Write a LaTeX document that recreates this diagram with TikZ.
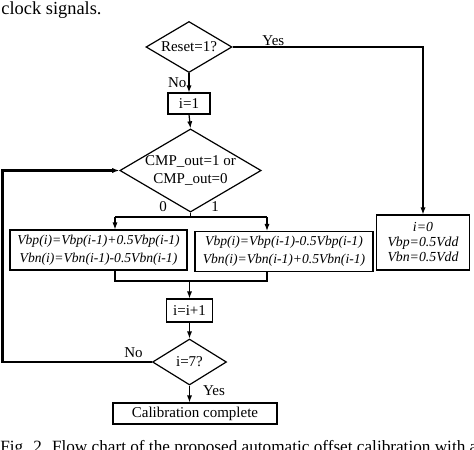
\documentclass[tikz,border=0pt]{standalone}
\usepackage{fontspec}
\setmainfont{Liberation Serif}
\usetikzlibrary{arrows.meta,positioning,shapes.geometric,calc}

\begin{document}
\begin{tikzpicture}[
    x={(0.5pt,0pt)}, y={(0pt,-0.5pt)},
    every node/.style={font=\fontsize{7.5}{9}\selectfont, inner sep=0pt},
    stepbox/.style={draw, line width=0.6pt, align=center},
    decision/.style={draw, diamond, line width=0.6pt, align=center, aspect=1.7},
    updbox/.style={stepbox, font=\fontsize{6.8}{9}\selectfont\itshape},
    flow/.style={line width=0.6pt, -{Latex[length=3.5pt,width=2.6pt]}},
    wire/.style={line width=0.6pt},
  ]
    \useasboundingbox (0,0) rectangle (474,449);
    \clip (0,0) rectangle (474,449);

    % ---- text round the figure ----
    \node[anchor=base west, font=\fontsize{9.2}{11}\selectfont] (bodytext)
      at (1,15) {clock signals.};
    \node[anchor=base west, font=\fontsize{8.6}{10}\selectfont] (caption)
      at (0,452) {Fig. 2. Flow chart of the proposed automatic offset calibration with a};

    % ---- blocks ----
    \node[decision, minimum width=43pt, minimum height=25.5pt] (reset) at (189,47) {Reset=1?};
    \node[stepbox, minimum width=21pt, minimum height=10.5pt] (init) at (189,103.5) {i=1};
    \node[decision, minimum width=64.5pt, minimum height=40.5pt] (cmp)
      at (190.5,170.5) {CMP\_out=1 or\\CMP\_out=0};
    \node[updbox, minimum width=88.5pt, minimum height=20pt] (upd0) at (98.5,250)
      {Vbp(i)=Vbp(i-1)+0.5Vbp(i-1)\\Vbn(i)=Vbn(i-1)-0.5Vbn(i-1)};
    \node[updbox, minimum width=89pt, minimum height=20pt] (upd1) at (284,251.5)
      {Vbp(i)=Vbp(i-1)-0.5Vbp(i-1)\\Vbn(i)=Vbn(i-1)+0.5Vbn(i-1)};
    \node[updbox, font=\fontsize{6.9}{7.5}\selectfont\itshape,
      minimum width=46.5pt, minimum height=27.5pt] (zero) at (423,242.5)
      {i=0\\Vbp=0.5Vdd\\Vbn=0.5Vdd};
    \node[stepbox, minimum width=23pt, minimum height=11.5pt] (inc) at (189.5,310.5) {i=i+1};
    \node[decision, minimum width=37pt, minimum height=23pt] (chk) at (189.5,362) {i=7?};
    \node[stepbox, minimum width=82pt, minimum height=10.5pt] (done) at (195,413.5) {Calibration complete};

    % ---- branch and merge points ----
    \coordinate (split) at (190.5,217);
    \coordinate (br0) at (115,217);
    \coordinate (br1) at (267,217);
    \coordinate (mg0) at (115,281);
    \coordinate (mg1) at (267,281);
    \coordinate (mg) at (189.5,281);
    \coordinate (loop) at (2.5,362);

    % ---- connectors ----
    \draw[flow] (reset.east) -| (zero.north)
      node[pos=0.107, anchor=south, yshift=0.6pt] (yes1) {Yes};
    \draw[flow] (reset.south) -- (init.north)
      node[midway, left=1pt] (no1) {No};
    \draw[flow] (init.south) -- (cmp.north);
    \draw[wire] (cmp.south) -- (split);
    \draw[wire] (br0) -- (br1);
    \draw[flow] (br0) -- (br0 |- upd0.north);
    \draw[flow] (br1) -- (br1 |- upd1.north);
    \node (lab0) at (163,207) {0};
    \node (lab1) at (215,207) {1};
    \draw[wire] (upd0.south -| mg0) -- (mg0) -- (mg1) -- (upd1.south -| mg1);
    \draw[flow] (mg) -- (mg |- inc.north);
    \draw[flow] (inc.south) -- (chk.north);
    \draw[flow] (chk.south) -- (chk.south |- done.north)
      node[pos=0.3, right=6.5pt] (yes2) {Yes};
    \draw[flow, line width=1.1pt] (chk.west) -- (loop) -- (loop |- cmp.west) -- (cmp.west);
    \node (no2) at (133.5,352.5) {No};
  \end{tikzpicture}
\end{document}
